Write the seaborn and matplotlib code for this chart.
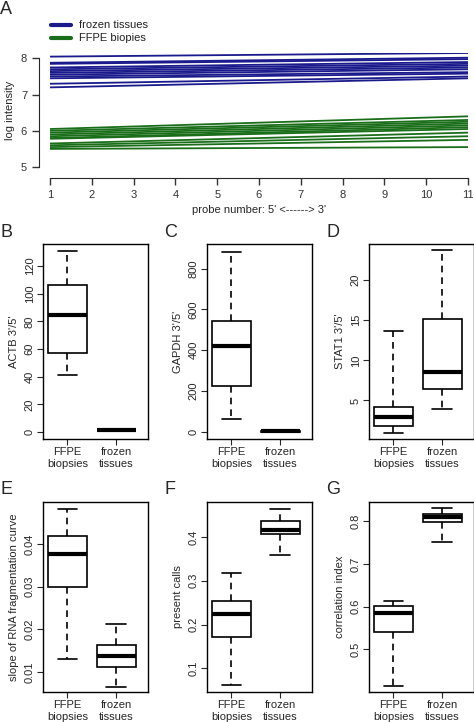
import matplotlib
matplotlib.use("Agg")
import matplotlib.pyplot as plt
import seaborn as sns
import pandas as pd

sns.set_style("white")
plt.rcParams['font.family'] = ['Liberation Sans', 'DejaVu Sans']

probe_x = [1, 11]
frozen_start = [8.05, 7.88, 7.85, 7.75, 7.70, 7.65, 7.60, 7.55, 7.50, 7.45, 7.30, 7.20]
frozen_end = [8.15, 8.02, 7.98, 7.90, 7.85, 7.80, 7.75, 7.70, 7.62, 7.58, 7.50, 7.45]
ffpe_start = [6.05, 6.00, 5.95, 5.90, 5.85, 5.80, 5.78, 5.65, 5.60, 5.55, 5.50]
ffpe_end = [6.40, 6.30, 6.25, 6.20, 6.15, 6.10, 6.05, 5.95, 5.85, 5.75, 5.55]

groups = ["FFPE\nbiopsies", "frozen\ntissues"]
# five-number summaries: min, q1, median, q3, max
panels = {
    "B": ("ACTB 3'/5'", [41, 57, 85, 106, 131], [1.2, 1.4, 1.5, 1.6, 1.8], (-5, 136), [0, 20, 40, 60, 80, 100, 120]),
    "C": ("GAPDH 3'/5'", [65, 225, 420, 545, 880], [0, 1, 2, 3, 4], (-35, 920), [0, 200, 400, 600, 800]),
    "D": ("STAT1 3'/5'", [1, 1.8, 3, 4.2, 13.7], [4, 6.4, 8.5, 15.2, 23.7], (0.2, 24.5), [5, 10, 15, 20]),
    "E": ("slope of RNA fragmentation curve", [0.013, 0.0298, 0.0377, 0.0418, 0.0482], [0.0065, 0.0112, 0.0138, 0.0163, 0.0212], (0.0053, 0.0498), [0.01, 0.02, 0.03, 0.04]),
    "F": ("present calls", [0.062, 0.172, 0.225, 0.254, 0.318], [0.36, 0.408, 0.417, 0.436, 0.465], (0.046, 0.48), [0.1, 0.2, 0.3, 0.4]),
    "G": ("correlation index", [0.415, 0.54, 0.585, 0.602, 0.612], [0.752, 0.797, 0.81, 0.818, 0.83], (0.4, 0.845), [0.5, 0.6, 0.7, 0.8]),
}

W, H = 474, 722
fig = plt.figure(figsize=(W / 100, H / 100), dpi=100)

def rect(x0, y0, x1, y1):
    return [x0 / W, 1 - y1 / H, (x1 - x0) / W, (y1 - y0) / H]

# Panel A
ax = fig.add_axes(rect(50, 53, 468, 167))
rows = []
for i, (s, e) in enumerate(zip(frozen_start, frozen_end)):
    rows += [("f%d" % i, probe_x[0], s, "frozen tissues"), ("f%d" % i, probe_x[1], e, "frozen tissues")]
for i, (s, e) in enumerate(zip(ffpe_start, ffpe_end)):
    rows += [("p%d" % i, probe_x[0], s, "FFPE biopies"), ("p%d" % i, probe_x[1], e, "FFPE biopies")]
df = pd.DataFrame(rows, columns=["id", "x", "y", "grp"])
for gid, sub in df.groupby("id", sort=False):
    col = "#1a1a8c" if sub.grp.iloc[0] == "frozen tissues" else "#1a6e1a"
    sns.lineplot(data=sub, x="x", y="y", ax=ax, color=col, lw=1.3, legend=False)
ax.set_xlim(1, 11)
ax.set_ylim(5, 8.15)
ax.set_xticks(range(1, 12))
ax.set_yticks([5, 6, 7, 8])
ax.set_yticklabels(["5", "6", "7", "8"], rotation=90, va="center")
for s in ["top", "right"]:
    ax.spines[s].set_visible(False)
ax.spines["left"].set_position(("outward", 8))
ax.spines["bottom"].set_position(("outward", 8))
ax.spines["left"].set_bounds(5, 8)
ax.tick_params(axis="both", direction="out", length=5, width=1, labelsize=8, left=True, bottom=True, colors="#333333")
ax.set_xlabel("probe number: 5' <------> 3'", fontsize=8)
ax.set_ylabel("log intensity", fontsize=8)
fig.text(79 / W, 1 - 25 / H, "frozen tissues", fontsize=8, va="center", ha="left", color="#222")
fig.text(79 / W, 1 - 38 / H, "FFPE biopies", fontsize=8, va="center", ha="left", color="#222")
fig.add_artist(plt.Line2D([51 / W, 71 / W], [1 - 25 / H] * 2, color="#1a1a8c", lw=3))
fig.add_artist(plt.Line2D([51 / W, 71 / W], [1 - 38 / H] * 2, color="#1a6e1a", lw=3))
fig.text(0 / W, 1 - 9 / H, "A", fontsize=13, va="center")

# Box panels
pos = {"B": (43, 244, 148, 439), "C": (207, 244, 312, 439), "D": (369, 244, 474, 439),
       "E": (43, 502, 148, 692), "F": (207, 502, 312, 692), "G": (369, 502, 474, 692)}
for key, (label, ff, fr, ylim, ticks) in panels.items():
    x0, y0, x1, y1 = pos[key]
    ax = fig.add_axes(rect(x0, y0, x1, y1))
    bd = pd.DataFrame({"grp": [groups[0]] * 5 + [groups[1]] * 5, "val": ff + fr})
    sns.boxplot(data=bd, x="grp", y="val", ax=ax, whis=(0, 100), width=0.8, color="white",
                linecolor="black", linewidth=1.2, fliersize=0,
                whiskerprops=dict(linestyle=(0, (4, 3))), capprops=dict(linestyle="-"),
                medianprops=dict(linewidth=3, color="black"))
    ax.set_xlim(-0.5, 1.65)
    ax.set_ylim(*ylim)
    ax.set_yticks(ticks)
    ax.set_yticklabels([("%g" % t) for t in ticks], rotation=90, va="center")
    ax.set_xlabel("")
    ax.set_ylabel(label, fontsize=8)
    ax.tick_params(axis="both", direction="out", length=4, labelsize=8, left=True, bottom=True, pad=2)
    for s in ax.spines.values():
        s.set_color("black")
        s.set_linewidth(1)
    fig.text((x0 - 43) / W, 1 - (y0 - 12) / H, key, fontsize=13, va="center")

fig.savefig("out.png", dpi=100)
